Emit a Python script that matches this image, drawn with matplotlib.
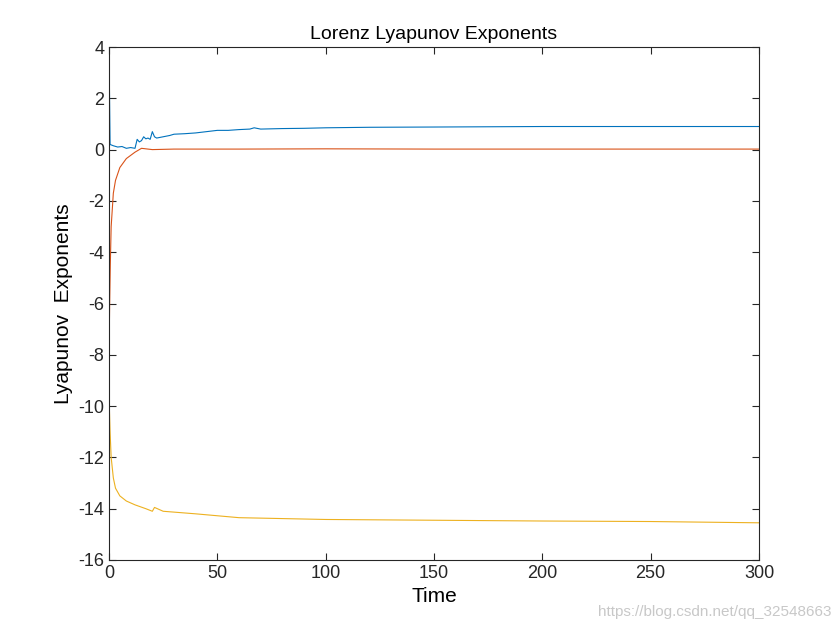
import matplotlib
matplotlib.use("Agg")
import matplotlib.pyplot as plt
plt.rcParams['font.family'] = ['Liberation Sans', 'DejaVu Sans']
plt.rcParams['axes.unicode_minus'] = False

t1 = [0, 0.5, 2, 4, 6, 8, 10, 12, 13, 14, 15, 16, 17, 18, 19, 20, 21, 22, 25, 28, 30, 35, 40, 45, 50, 55, 60, 65, 67, 70, 80, 90, 100, 120, 150, 200, 250, 300]
l1 = [3.9, 0.2, 0.15, 0.1, 0.12, 0.05, 0.08, 0.05, 0.4, 0.3, 0.35, 0.5, 0.42, 0.45, 0.4, 0.7, 0.5, 0.45, 0.5, 0.55, 0.6, 0.62, 0.65, 0.7, 0.75, 0.75, 0.78, 0.8, 0.85, 0.8, 0.82, 0.83, 0.85, 0.87, 0.88, 0.9, 0.9, 0.9]
t2 = [0, 0.3, 0.6, 1, 2, 3, 5, 8, 12, 15, 20, 30, 60, 100, 150, 200, 300]
l2 = [-8, -6, -4.5, -3, -1.7, -1.2, -0.7, -0.35, -0.1, 0.05, 0.0, 0.02, 0.02, 0.03, 0.02, 0.02, 0.02]
t3 = [0, 0.5, 1, 2, 3, 5, 8, 12, 17, 20, 21, 25, 40, 60, 100, 150, 200, 250, 300]
l3 = [-9.6, -11, -12, -12.8, -13.2, -13.5, -13.7, -13.85, -14.0, -14.1, -13.95, -14.1, -14.2, -14.35, -14.42, -14.45, -14.48, -14.5, -14.55]

fig = plt.figure(figsize=(8.4, 6.3), dpi=100)
ax = fig.add_axes([109/840, 70/630, 650/840, 513/630])
ax.plot(t1, l1, color="#0072BD", lw=0.8)
ax.plot(t2, l2, color="#D95319", lw=0.8)
ax.plot(t3, l3, color="#EDB120", lw=0.8)
ax.set_xlim(0, 300)
ax.set_ylim(-16, 4)
ax.set_xticks(range(0, 301, 50))
ax.set_yticks(range(-16, 5, 2))
ax.tick_params(direction="in", top=True, right=True, labelsize=13, length=5, color="#262626", labelcolor="#262626")
for s in ax.spines.values():
    s.set_color("#262626")
ax.set_title("Lorenz Lyapunov Exponents", fontsize=14, color="#000000")
ax.set_xlabel("Time", fontsize=15)
ax.set_ylabel("Lyapunov  Exponents", fontsize=15)
fig.text(0.99, 0.022, "https://blog.csdn.net/qq_32548663", ha="right", fontsize=11, color="#c8c8c8")
fig.savefig("out.png")
